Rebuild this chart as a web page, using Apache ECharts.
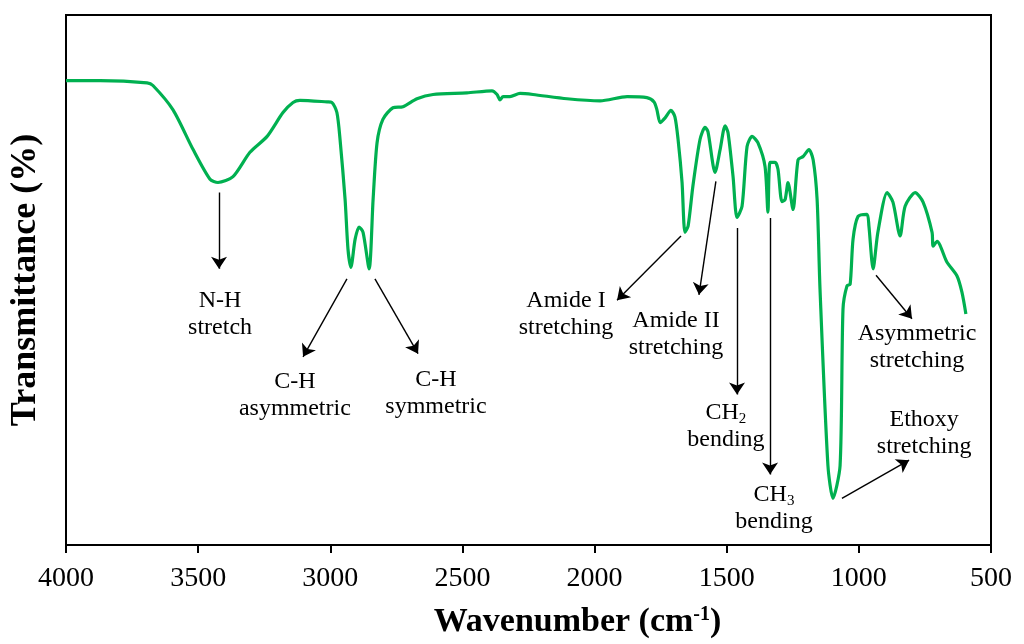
<!DOCTYPE html>
<html>
<head>
<meta charset="utf-8">
<script src="https://cdn.jsdelivr.net/npm/echarts@6/dist/echarts.min.js"></script>
<style>html,body{margin:0;padding:0;background:#fff}#c{width:1024px;height:644px}</style>
</head>
<body>
<div id="c"></div>
<script>
// Spectrum (wavenumber in cm-1, transmittance in arbitrary %)
const wavenumbers = [4000,3871,3693,3671,3595,3519,3455,3425,3368,3304,3239,3179,3141,3115,3012,2994,2975,2963,2944,2933,2922,2906,2891,2876,2853,2838,2823,2801,2763,2725,2672,2611,2483,2388,2369,2358,2346,2320,2282,2233,2104,1979,1877,1802,1775,1764,1752,1733,1711,1696,1684,1669,1658,1646,1628,1601,1582,1571,1544,1525,1506,1495,1476,1461,1442,1423,1404,1382,1355,1344,1336,1317,1306,1291,1279,1268,1249,1230,1211,1189,1173,1158,1147,1117,1098,1071,1060,1045,1033,1022,1003,969,962,946,928,893,871,844,825,787,757,723,719,704,667,629,610,595];
const transmittance = [87.6,87.6,87.2,86.7,82.1,74.6,69.0,68.4,69.5,74.1,77.1,81.6,83.5,83.9,83.6,83.5,81.6,76.5,65.2,55.8,52.4,57.7,60.0,59.0,52.1,65.2,75.9,80.3,82.5,82.7,84.2,85.0,85.3,85.7,85.0,84.0,84.6,84.6,85.2,85.0,84.2,83.8,84.6,84.4,83.6,82.1,79.7,80.6,82.0,80.8,76.5,68.4,59.0,60.2,67.7,76.5,78.8,78.0,70.3,74.6,79.1,77.8,69.5,61.8,63.9,75.2,77.1,75.9,71.4,62.8,72.2,72.2,70.9,64.8,65.2,68.4,63.3,72.7,73.3,74.6,72.7,65.2,48.3,15.0,8.8,15.0,44.5,48.9,49.2,57.7,62.0,62.4,60.2,52.1,59.0,66.5,64.7,58.3,63.9,66.5,64.7,59.0,56.4,57.3,53.4,50.8,47.7,43.6];

const xTicks = [4000,3500,3000,2500,2000,1500,1000,500];

// Annotations: label text, label anchor [wn, T], arrow start [wn, T], arrow end [wn, T]
const annLabels = ['N-H\nstretch','C-H\nasymmetric','C-H\nsymmetric','Amide I\nstretching','Amide II\nstretching','CH{sub|2}\nbending','CH{sub|3}\nbending','Ethoxy\nstretching','Asymmetric\nstretching'];
const annLabelPos = [[3417,43.6],[3134,28.2],[2600,28.6],[2108,43.6],[1692,39.8],[1503,22.4],[1321,6.9],[753,21.0],[780,37.4]];
const arrowFrom = [[3421,66.5],[2937,50.2],[2831,50.2],[1673,58.3],[1541,68.6],[1461,59.8],[1336,61.7],[1064,8.8],[935,50.9]];
const arrowTo = [[3421,52.1],[3103,35.5],[2668,36.1],[1915,46.2],[1605,47.2],[1461,28.4],[1336,13.3],[810,16.0],[799,42.7]];

const serif = '"Liberation Serif","Times New Roman",serif';
const chart = echarts.init(document.getElementById('c'));
chart.setOption({
  animation: false,
  grid: {left: 66, right: 33, top: 15, bottom: 97, show: true, borderColor: '#000', borderWidth: 2, backgroundColor: 'transparent'},
  xAxis: {
    type: 'value', inverse: true, min: 500, max: 4000, interval: 500,
    name: 'Wavenumber (cm{sup|-1})', nameLocation: 'middle', nameGap: 60,
    nameTextStyle: {fontFamily: serif, fontWeight: 'bold', fontSize: 34, color: '#000', padding: [0, 0, 0, 98],
      rich: {sup: {fontFamily: serif, fontWeight: 'bold', fontSize: 20, verticalAlign: 'top', padding: [0,0,14,0], color: '#000'}}},
    axisLine: {lineStyle: {color: '#000', width: 2}},
    axisTick: {show: true, inside: false, length: 8, lineStyle: {color: '#000', width: 2}},
    axisLabel: {fontFamily: serif, fontSize: 28, color: '#000', margin: 20,
      formatter: v => xTicks.includes(v) ? String(v) : ''},
    splitLine: {show: false}
  },
  yAxis: {
    type: 'value', min: 0, max: 100,
    name: 'Transmittance (%)', nameLocation: 'middle', nameGap: 22,
    nameTextStyle: {fontFamily: serif, fontWeight: 'bold', fontSize: 36, color: '#000'},
    axisLine: {show: true, lineStyle: {color: '#000', width: 2}},
    axisTick: {show: false}, axisLabel: {show: false}, splitLine: {show: false}
  },
  series: [
    {
      type: 'line', data: wavenumbers.map((w, i) => [w, transmittance[i]]),
      showSymbol: false, smooth: 0.25, lineStyle: {color: '#00b050', width: 3.2}, z: 3
    },
    {
      type: 'lines', coordinateSystem: 'cartesian2d', polyline: false,
      symbol: ['none', 'arrow'], symbolSize: 12,
      lineStyle: {color: '#000', width: 1.4, opacity: 1},
      data: arrowFrom.map((p, i) => ({coords: [p, arrowTo[i]]})), z: 4
    },
    {
      type: 'scatter', symbolSize: 0, itemStyle: {color: '#000'},
      data: annLabelPos.map((p, i) => ({value: p, name: annLabels[i]})),
      label: {show: true, position: 'inside', formatter: p => p.name, opacity: 1,
        fontFamily: serif, fontSize: 24, lineHeight: 27, color: '#000', align: 'center',
        rich: {sub: {fontFamily: serif, fontSize: 15, verticalAlign: 'bottom', padding: [8,0,0,0], color: '#000'}}},
      emphasis: {disabled: true},
      z: 5
    }
  ]
});
</script>
</body>
</html>
